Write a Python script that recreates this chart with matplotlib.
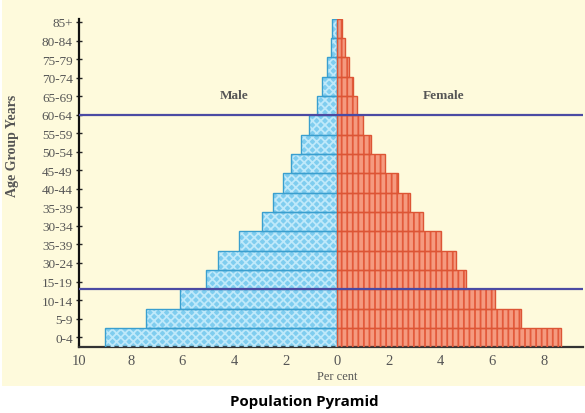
import matplotlib
matplotlib.use('Agg')
import matplotlib.pyplot as plt
from matplotlib.patches import Rectangle
import numpy as np

# Colores
CREAM = '#fefadc'
BLUE_FILL = '#7fcdef'
BLUE_HATCH = '#bfe9fa'
BLUE_EDGE = '#3a9fcf'
RED_FILL = '#f59a7f'
RED_HATCH = '#e35a3b'
RED_EDGE = '#dc5535'
LINE_COL = '#4b4aa3'
GRAY = '#555555'

# Datos (porcentaje por grupo, de abajo hacia arriba; el original tiene 17 barras)
male = [9.0, 7.4, 6.1, 5.1, 4.6, 3.8, 2.9, 2.5, 2.1, 1.8, 1.4, 1.1, 0.8, 0.6, 0.4, 0.25, 0.2]
female = [8.65, 7.1, 6.1, 5.0, 4.6, 4.0, 3.3, 2.8, 2.35, 1.85, 1.3, 1.0, 0.75, 0.6, 0.45, 0.3, 0.2]
age_labels = ['0-4', '5-9', '10-14', '15-19', '30-24', '35-39', '30-34', '35-39',
              '40-44', '45-49', '50-54', '55-59', '60-64', '65-69', '70-74',
              '75-79', '80-84', '85+']
x_ticks = [-10, -8, -6, -4, -2, 0, 2, 4, 6, 8]
ref_lines = [3, 12]

plt.rcParams['hatch.linewidth'] = 1.3

fig = plt.figure(figsize=(5.85, 4.14), dpi=100)
fig.patches.append(Rectangle((0.004, 0.065), 0.996, 0.935, transform=fig.transFigure,
                             facecolor=CREAM, edgecolor='none', zorder=-5))
ax = fig.add_axes([0.135, 0.159, 0.861, 0.793])
ax.set_facecolor('none')

y = np.arange(len(male))

# Hombres (a la izquierda)
ax.barh(y, [-v for v in male], height=1, align='edge', color=BLUE_FILL,
        edgecolor='none', zorder=2)
ax.barh(y, [-v for v in male], height=1, align='edge', color='none',
        edgecolor=BLUE_HATCH, hatch='xxxx', linewidth=0, zorder=3)
ax.barh(y, [-v for v in male], height=1, align='edge', color='none',
        edgecolor=BLUE_EDGE, linewidth=1.0, zorder=4)

# Mujeres (a la derecha)
ax.barh(y, female, height=1, align='edge', color=RED_FILL,
        edgecolor='none', zorder=2)
ax.barh(y, female, height=1, align='edge', color='none',
        edgecolor=RED_HATCH, hatch='|||', linewidth=0, zorder=3)
ax.barh(y, female, height=1, align='edge', color='none',
        edgecolor=RED_EDGE, linewidth=1.0, zorder=4)

for yl in ref_lines:
    ax.axhline(yl, color=LINE_COL, linewidth=1.6, zorder=5)

ax.set_xlim(-10, 9.5)
ax.set_ylim(0, 17)

serif = ['Liberation Serif', 'DejaVu Serif']
ax.set_xticks(x_ticks)
ax.set_xticklabels([str(abs(t)) for t in x_ticks], family=serif, fontsize=10.5, color=GRAY)
ax.set_yticks(np.linspace(0.52, 16.84, len(age_labels)))
ax.set_yticklabels(age_labels, family=serif, fontsize=9.5, color=GRAY)
ax.tick_params(axis='x', direction='in', length=3, width=1.5, color='#333333', pad=5)
ax.tick_params(axis='y', direction='inout', length=5, width=1, color='#222222', pad=2)

ax.spines['top'].set_visible(False)
ax.spines['right'].set_visible(False)
ax.spines['left'].set_linewidth(1.6)
ax.spines['left'].set_color('#111111')
ax.spines['bottom'].set_linewidth(1.6)
ax.spines['bottom'].set_color('#333333')

ax.text(-4.0, 13.05, 'Male', family=serif, fontsize=9.5, color=GRAY,
        fontweight='bold', ha='center', va='center')
ax.text(4.1, 13.05, 'Female', family=serif, fontsize=9.5, color=GRAY,
        fontweight='bold', ha='center', va='center')

fig.text(0.576, 0.09, 'Per cent', family=serif, fontsize=9, color=GRAY,
         ha='center', va='center')
fig.text(0.022, 0.647, 'Age Group Years', family=serif, fontsize=10, color=GRAY,
         fontweight='bold', rotation=90, ha='center', va='center')

fig.text(0.52, 0.03, 'Population Pyramid', family=['Open Sans', 'DejaVu Sans'],
         fontsize=10.8, fontweight='bold', color='black', ha='center', va='center')

fig.savefig('out.png', dpi=100, facecolor='white')
plt.close(fig)
